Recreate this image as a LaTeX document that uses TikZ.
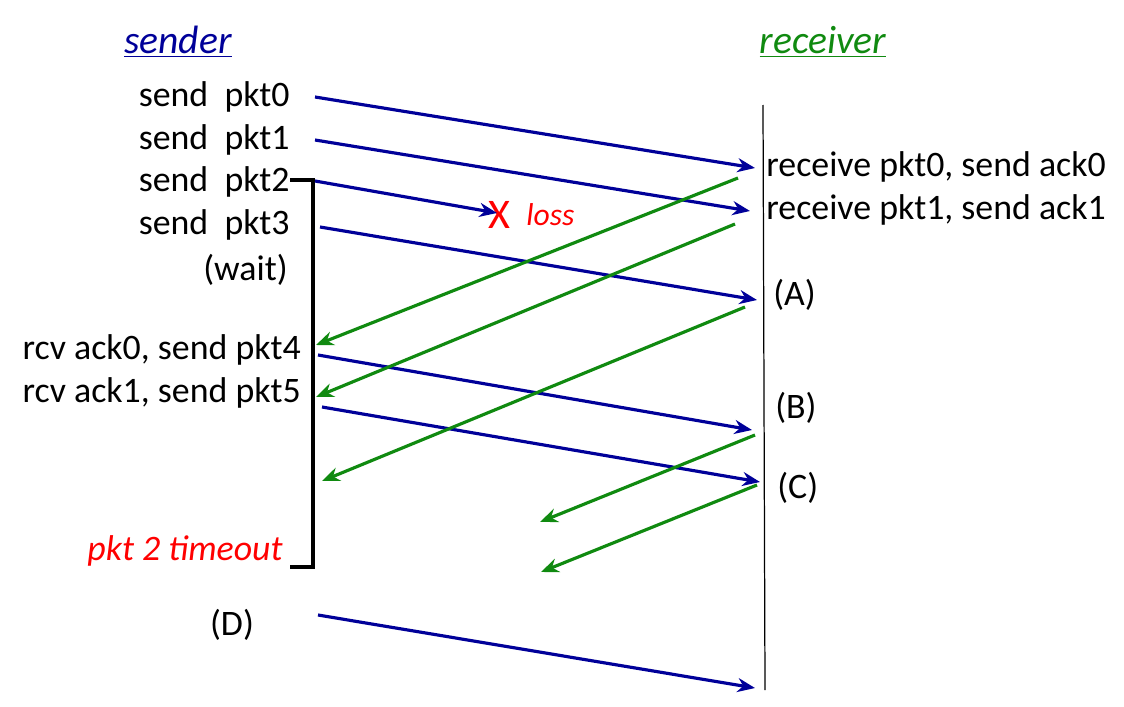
\documentclass[tikz,border=0pt]{standalone}
\usepackage{fontspec}
\setmainfont{Carlito}
\usetikzlibrary{arrows.meta}
\definecolor{pblue}{HTML}{000099}
\definecolor{pgreen}{HTML}{108A10}
\begin{document}
\begin{tikzpicture}[x=0.02cm,y=-0.02cm,
  txt/.style={font=\fontsize{20.4}{24}\selectfont,inner sep=0pt},
  bmsg/.style={draw=pblue,line width=1.8pt,-{Stealth[length=10pt,width=8pt]}},
  gmsg/.style={draw=pgreen,line width=1.8pt,-{Stealth[length=10pt,width=8pt]}}]
\useasboundingbox (0,0) rectangle (1124,706);
\node[txt,text=pblue,font=\fontsize{22.5}{26}\selectfont\itshape] (snd) at (178,42) {\underline{sender}};
\node[txt,text=pgreen,font=\fontsize{22.5}{26}\selectfont\itshape] (rcv) at (823,42) {\underline{receiver}};
\coordinate (rt) at (763,105); \coordinate (rb) at (765,690);
\draw[line width=0.7pt] (rt) -- (rb);
\coordinate (b1) at (290,180); \coordinate (b2) at (290,567);
\draw[line width=2pt] (b1) -- (313,180) -- (313,567) -- (b2);
\foreach \n/\t/\y in {s0/send\ \ pkt0/97,s1/send\ \ pkt1/140,s2/send\ \ pkt2/182,s3/send\ \ pkt3/225}
  \node[txt,anchor=east] (\n) at (290,\y) {\t};
\node[txt,anchor=east] (w) at (288,270) {(wait)};
\node[txt,anchor=east] (r4) at (301,350) {rcv ack0, send pkt4};
\node[txt,anchor=east] (r5) at (301,393) {rcv ack1, send pkt5};
\node[txt,anchor=east,text=red,font=\fontsize{20.4}{24}\selectfont\itshape] (to) at (283,551) {pkt 2 timeout};
\node[txt] (d) at (232,625) {(D)};
\node[txt,anchor=west] (ra0) at (766,167) {receive pkt0, send ack0};
\node[txt,anchor=west] (ra1) at (766,210) {receive pkt1, send ack1};
\node[txt,anchor=west] (a) at (773,295) {(A)};
\node[txt,anchor=west] (b) at (775,408) {(B)};
\node[txt,anchor=west] (c) at (777,488) {(C)};
\node[txt,text=red,font=\fontsize{24}{28}\selectfont] (x) at (499,215) {X};
\node[txt,text=red,font=\fontsize{18}{22}\selectfont\itshape,anchor=west] (loss) at (526,215) {loss};
% blue
\coordinate (p0s) at (315,97); \coordinate (p0e) at (755,168);
\coordinate (p1s) at (315,140); \coordinate (p1e) at (750,211);
\coordinate (p2s) at (315,181); \coordinate (p2e) at (497,213);
\coordinate (p3s) at (320,227); \coordinate (p3e) at (757,300);
\coordinate (p4s) at (318,355); \coordinate (p4e) at (752,430);
\coordinate (p5s) at (322,407); \coordinate (p5e) at (760,482);
\coordinate (p6s) at (318,615); \coordinate (p6e) at (755,688);
\foreach \i in {0,...,6} \draw[bmsg] (p\i s) -- (p\i e);
% green
\coordinate (g0s) at (738,178); \coordinate (g0e) at (316,345);
\coordinate (g1s) at (735,224); \coordinate (g1e) at (316,397);
\coordinate (g2s) at (745,307); \coordinate (g2e) at (322,481);
\coordinate (g3s) at (755,435); \coordinate (g3e) at (540,522);
\coordinate (g4s) at (757,485); \coordinate (g4e) at (541,572);
\foreach \i in {0,...,4} \draw[gmsg] (g\i s) -- (g\i e);
\end{tikzpicture}
\end{document}
